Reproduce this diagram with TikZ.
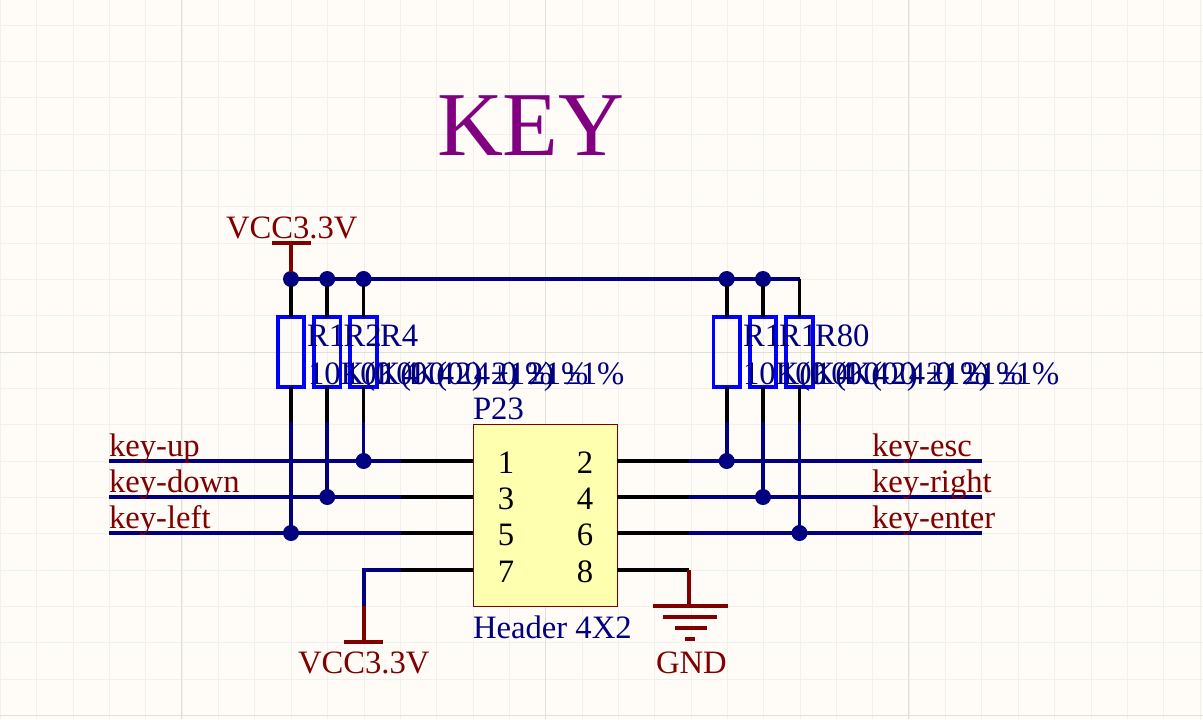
\documentclass[tikz,border=0pt]{standalone}
\usepackage{fontspec}
\setmainfont{Liberation Serif}
\definecolor{paper}{HTML}{FFFCF8}
\definecolor{gridminor}{HTML}{F1F1EC}
\definecolor{gridmajor}{HTML}{E0E0DA}
\definecolor{wirenavy}{HTML}{000080}
\definecolor{powerred}{HTML}{800000}
\definecolor{resblue}{HTML}{0000FF}
\definecolor{titlepurple}{HTML}{800080}
\definecolor{hdrfill}{HTML}{FFFFB0}
\newcommand{\resval}{10K({\addfontfeature{LetterSpace=32}0402}) ±1\%}
\tikzset{
  every node/.style={inner sep=0pt,outer sep=0pt},
  wire/.style={draw=wirenavy,line width=4*0.75pt},
  thinwire/.style={draw=wirenavy,line width=3.2*0.75pt},
  pinline/.style={draw=black,line width=4.2*0.75pt},
  thinpin/.style={draw=black,line width=3.2*0.75pt},
  pwr/.style={draw=powerred,line width=4.2*0.75pt},
  junction/.style={circle,fill=wirenavy,minimum size=16*0.75pt},
  resbox/.style={rectangle,draw=resblue,line width=3.8*0.75pt,minimum width=26.5*0.75pt,minimum height=70*0.75pt},
  txt/.style={anchor=base west,font=\fontsize{24.5}{28}\selectfont},
  partlabel/.style={txt,text=wirenavy},
  netlabel/.style={txt,text=powerred},
  pinnum/.style={anchor=base,font=\fontsize{24.5}{28}\selectfont,text=black},
  header/.style={rectangle,draw=powerred,line width=0.9*0.75pt,fill=hdrfill,minimum width=144*0.75pt,minimum height=182*0.75pt}
}
\begin{document}
\begin{tikzpicture}[x=0.75pt,y=-0.75pt]
\useasboundingbox (0,0) rectangle (1203,719);
\clip (0,0) rectangle (1203,719);
\fill[paper] (0,0) rectangle (1203,719);
% grid
\foreach \k in {0,...,33} {
  \pgfmathsetmacro{\gx}{0.5+36.35*\k}
  \draw[gridminor,line width=0.75pt] (\gx,0) -- (\gx,719);
}
\foreach \k in {0,...,19} {
  \pgfmathsetmacro{\gy}{25+36.35*\k}
  \draw[gridminor,line width=0.75pt] (0,\gy) -- (1203,\gy);
}
\foreach \gx in {181.5,545,908.5} \draw[gridmajor,line width=0.75pt] (\gx,0) -- (\gx,719);
\foreach \gy in {352,715} \draw[gridmajor,line width=0.75pt] (0,\gy) -- (1203,\gy);

% parts
\node[header] (p23) at (545,515) {};
\node[resbox] (r1) at (291,351.7) {};
\node[resbox] (r2) at (327.2,351.7) {};
\node[resbox] (r3) at (363.6,351.7) {};
\node[resbox] (r4) at (726.7,351.7) {};
\node[resbox] (r5) at (763,351.7) {};
\node[resbox] (r6) at (799.5,351.7) {};

% junctions
\node[junction] (t1) at (291,279) {};
\node[junction] (t2) at (327.2,279) {};
\node[junction] (t3) at (363.6,279) {};
\node[junction] (t4) at (726.7,279) {};
\node[junction] (t5) at (763,279) {};
\coordinate (t6) at (799.5,279);
\node[junction] (j1) at (291,533) {};
\node[junction] (j2) at (327.2,497) {};
\node[junction] (j3) at (363.6,461) {};
\node[junction] (j4) at (726.7,461) {};
\node[junction] (j5) at (763,497) {};
\node[junction] (j6) at (799.5,533) {};

% free ends and pin ends
\coordinate (b1) at (291,422);
\coordinate (b2) at (327.2,422);
\coordinate (b3) at (363.6,422);
\coordinate (b4) at (726.7,422);
\coordinate (b5) at (763,422);
\coordinate (b6) at (799.5,422);
\coordinate (la) at (109,461);
\coordinate (lb) at (109,497);
\coordinate (lc) at (109,533);
\coordinate (ra) at (982,461);
\coordinate (rb) at (982,497);
\coordinate (rc) at (982,533);
\coordinate (p1) at (401,461);
\coordinate (p3) at (401,497);
\coordinate (p5) at (401,533);
\coordinate (p7) at (401,570);
\coordinate (p2) at (689,461);
\coordinate (p4) at (689,497);
\coordinate (p6) at (689,533);
\coordinate (p8) at (689,570);
\coordinate (vcorner) at (363.6,570);
\coordinate (vmid) at (363.6,606);
\coordinate (vbot) at (363.6,642);
\coordinate (vtop) at (291,243);
\coordinate (gtop) at (689,606);

% wires
\draw[thinwire] (t1.center) -- (t6);
\draw[wire] (la) -- (p1);
\draw[wire] (lb) -- (p3);
\draw[thinwire] (lc) -- (p5);
\draw[wire] (p2) -- (ra);
\draw[wire] (p4) -- (rb);
\draw[thinwire] (p6) -- (rc);
\draw[wire] (b1) -- (j1.center);
\draw[wire] (b2) -- (j2.center);
\draw[thinwire] (b3) -- (j3.center);
\draw[wire] (b4) -- (j4.center);
\draw[wire] (b5) -- (j5.center);
\draw[thinwire] (b6) -- (j6.center);
\draw[wire] (p7) -- (vcorner) -- (vmid);

% resistor pins
\draw[pinline] (t1.center) ++(0,7) -- (r1.north);
\draw[pinline] (t2.center) ++(0,7) -- (r2.north);
\draw[thinpin] (t3.center) ++(0,7) -- (r3.north);
\draw[pinline] (t4.center) ++(0,7) -- (r4.north);
\draw[pinline] (t5.center) ++(0,7) -- (r5.north);
\draw[thinpin] (t6) -- (r6.north);
\draw[pinline] (r1.south) -- (b1);
\draw[pinline] (r2.south) -- (b2);
\draw[thinpin] (r3.south) -- (b3);
\draw[pinline] (r4.south) -- (b4);
\draw[pinline] (r5.south) -- (b5);
\draw[thinpin] (r6.south) -- (b6);

% header pins
\draw[pinline] (p1) -- (p1 -| p23.west);
\draw[pinline] (p3) -- (p3 -| p23.west);
\draw[thinpin] (p5) -- (p5 -| p23.west);
\draw[pinline] (p7) -- (p7 -| p23.west);
\draw[pinline] (p2) -- (p2 -| p23.east);
\draw[pinline] (p4) -- (p4 -| p23.east);
\draw[thinpin] (p6) -- (p6 -| p23.east);
\draw[pinline] (p8) -- (p8 -| p23.east);

% power ports
\coordinate (vt1) at (272,243);
\coordinate (vt2) at (310.5,243);
\draw[pwr] (t1.center) ++(0,-7) -- (vtop);
\draw[pwr] (vt1) -- (vt2);
\coordinate (vb1) at (344,642);
\coordinate (vb2) at (383,642);
\draw[pwr] (vmid) -- (vbot);
\draw[pwr] (vb1) -- (vb2);
\draw[pwr] (p8) -- (gtop);
\coordinate (g1a) at (653,606);
\coordinate (g1b) at (728,606);
\coordinate (g2a) at (663,616.7);
\coordinate (g2b) at (717,616.7);
\coordinate (g3a) at (675,628);
\coordinate (g3b) at (707,628);
\coordinate (g4a) at (685,639);
\coordinate (g4b) at (695,639);
\draw[pwr] (g1a) -- (g1b);
\draw[pwr] (g2a) -- (g2b);
\draw[pwr] (g3a) -- (g3b);
\draw[pwr] (g4a) -- (g4b);

% text
\node[anchor=base west,font=\fontsize{68.5}{72}\selectfont,text=titlepurple] (title) at (437,155) {KEY};
\node[netlabel] (vcclabtop) at (226,238) {VCC3.3V};
\node[netlabel] (vcclabbot) at (298,673) {VCC3.3V};
\node[netlabel] (gndlab) at (656,673) {GND};
\node[netlabel] (lup) at (109,456) {key-up};
\node[netlabel] (ldown) at (109,492) {key-down};
\node[netlabel] (lleft) at (109,528) {key-left};
\node[netlabel] (lesc) at (872,456) {key-esc};
\node[netlabel] (lright) at (872,492) {key-right};
\node[netlabel] (lenter) at (872,528) {key-enter};

\node[partlabel] (n1) at (307,346) {R1};
\node[partlabel] (n2) at (343.5,346) {R2};
\node[partlabel] (n3) at (380,346) {R4};
\node[partlabel] (v1) at (308,384) {\resval};
\node[partlabel] (v2) at (344,384) {\resval};
\node[partlabel] (v3) at (380,384) {\resval};
\node[partlabel] (n4) at (743,346) {R1};
\node[partlabel] (n5) at (779,346) {R1};
\node[partlabel] (n6) at (815,346) {R80};
\node[partlabel] (v4) at (743,384) {\resval};
\node[partlabel] (v5) at (779,384) {\resval};
\node[partlabel] (v6) at (815,384) {\resval};
\node[partlabel] (des) at (473,419) {P23};
\node[partlabel] (cmt) at (473,638) {Header 4X2};

\node[pinnum] (d1) at (506,473) {1};
\node[pinnum] (d3) at (506,509) {3};
\node[pinnum] (d5) at (506,545) {5};
\node[pinnum] (d7) at (506,582) {7};
\node[pinnum] (d2) at (585,473) {2};
\node[pinnum] (d4) at (585,509) {4};
\node[pinnum] (d6) at (585,545) {6};
\node[pinnum] (d8) at (585,582) {8};
\end{tikzpicture}
\end{document}
